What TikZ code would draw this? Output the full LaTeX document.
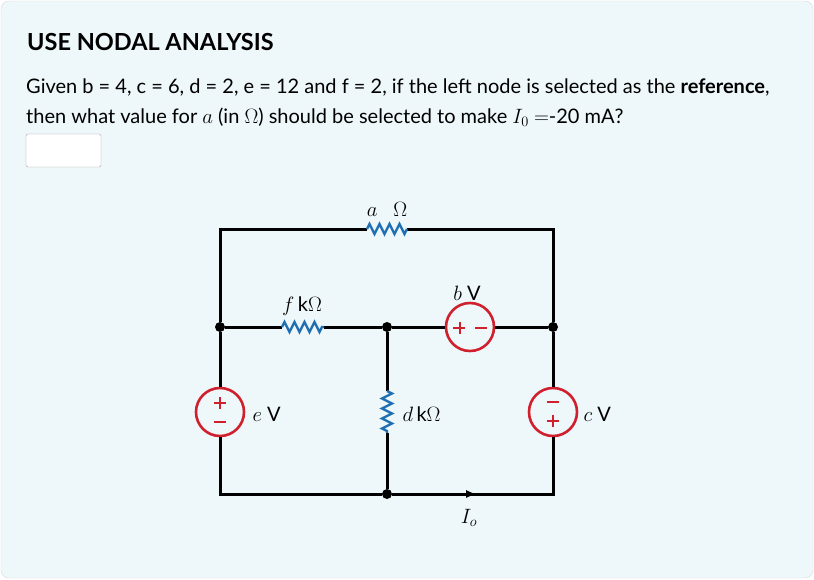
\documentclass[tikz,border=0pt]{standalone}
\usepackage{fontspec}
\setmainfont{Lato}
\usetikzlibrary{decorations.pathmorphing,arrows.meta}
\definecolor{cardbg}{HTML}{EEF7FA}
\definecolor{resblue}{HTML}{1F6FB2}
\definecolor{srcred}{HTML}{D0202E}
\tikzset{
  wire/.style={line width=3pt, black},
  res/.style={resblue, line width=2.4pt, decorate,
    decoration={zigzag, segment length=10pt, amplitude=5pt}},
  src/.style={circle, draw=srcred, line width=2.6pt, fill=cardbg, minimum size=48pt, inner sep=0pt},
  sign/.style={srcred, line width=1.6pt},
  dot/.style={circle, fill=black, minimum size=10pt, inner sep=0pt},
  lbl/.style={font=\fontsize{20}{24}\selectfont}
}
\begin{document}
\begin{tikzpicture}[x=1pt, y=-1pt]
\useasboundingbox (0,0) rectangle (814,579);

% Card
\draw[draw=gray!30, fill=cardbg, rounded corners=8pt] (1,1) rectangle (813,578);
\node[anchor=base west, inner sep=0pt, font=\fontsize{23.5}{26}\selectfont\bfseries] (title) at (27,50) {USE NODAL ANALYSIS};
\node[anchor=base west, inner sep=0pt, lbl] (line1) at (26,93) {Given b = 4, c = 6, d = 2, e = 12 and f = 2, if the left node is selected as the \textbf{reference},};
\node[anchor=base west, inner sep=0pt, lbl] (line2) at (26,123) {then what value for $a$ (in $\Omega$) should be selected to make $I_0$ $=$-20 mA?};
\draw[draw=gray!70, fill=white, rounded corners=2pt] (26,134) rectangle (101,167);

% Nodes
\coordinate (tl) at (220,229);
\coordinate (tr) at (553,229);
\node[dot] (nl) at (220,327) {};
\node[dot] (nm) at (387,327) {};
\node[dot] (nr) at (553,327) {};
\coordinate (bl) at (220,494);
\node[dot] (bm) at (387,494) {};
\coordinate (br) at (553,494);

% Sources
\node[src] (sb) at (470,327) {};
\node[src] (se) at (220,412) {};
\node[src] (sc) at (553,412) {};
\draw[sign] (453,328) -- +(12,0) (460,322) -- +(0,12) (475,328) -- +(12,0);
\draw[sign] (214,403) -- +(12,0) (220,397) -- +(0,12) (214,422) -- +(12,0);
\draw[sign] (547,402) -- +(12,0) (547,421) -- +(12,0) (553,415) -- +(0,12);

% Resistor ends
\coordinate (ra1) at (367,229); \coordinate (ra2) at (407,229);
\coordinate (rf1) at (282,327); \coordinate (rf2) at (324,327);
\coordinate (rd1) at (387,391); \coordinate (rd2) at (387,433);

% Wires
\draw[wire] (ra1) -- (tl) -- (nl) -- (se.north);
\draw[wire] (se.south) -- (bl) -- (bm) -- (br) -- (sc.south);
\draw[wire] (sc.north) -- (nr) -- (tr) -- (ra2);
\draw[wire] (nl) -- (rf1);
\draw[wire] (rf2) -- (nm) -- (sb.west);
\draw[wire] (sb.east) -- (nr);
\draw[wire] (nm) -- (rd1);
\draw[wire] (rd2) -- (bm);
\draw[res] (ra1) -- (ra2);
\draw[res] (rf1) -- (rf2);
\draw[res] (rd1) -- (rd2);
\draw[-{Latex[length=10pt,width=8pt]}, line width=1pt] (bm) -- (476,494);

% Labels
\node[lbl] (la) at (387,209) {$a$\hspace{16pt}$\Omega$};
\node[lbl] (lf) at (302,306) {$f\,$k$\Omega$};
\node[lbl] (lb) at (467,293) {$b$ V};
\node[lbl, anchor=west] (le) at (249,414) {$e$ V};
\node[lbl, anchor=west] (ld) at (399,414) {$d\,$k$\Omega$};
\node[lbl, anchor=west] (lc) at (580,414) {$c$ V};
\node[lbl] (lio) at (469,518) {$I_o$};
\end{tikzpicture}
\end{document}
